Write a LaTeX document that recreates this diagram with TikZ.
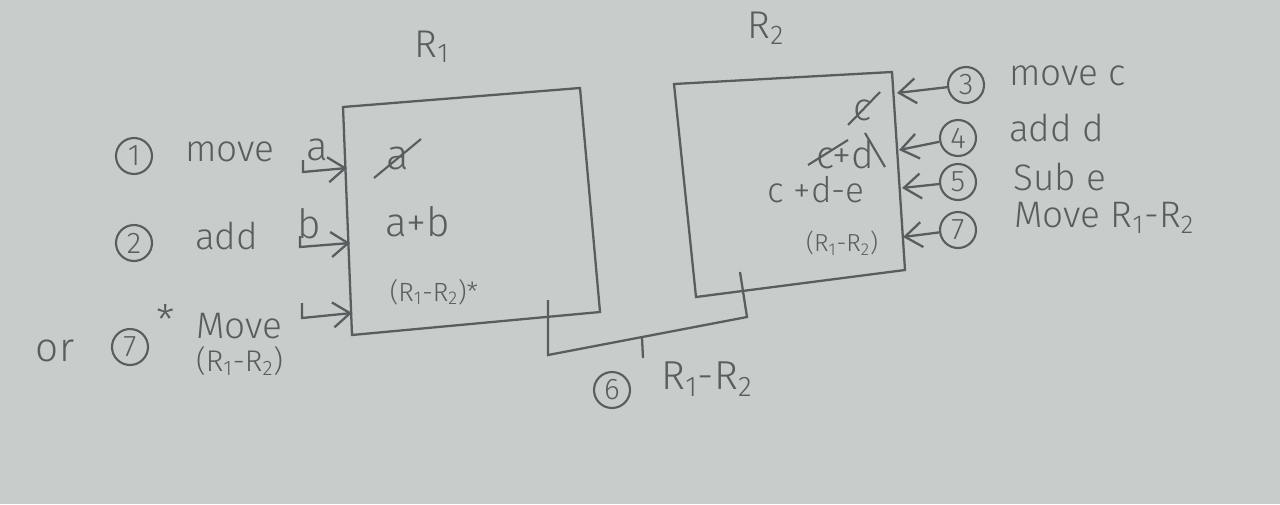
\documentclass[tikz,border=0pt]{standalone}
\usepackage{fontspec}
\setmainfont{Fira Sans}[UprightFont=* Light]
\usetikzlibrary{arrows.meta}
\definecolor{paper}{HTML}{C8CCCB}
\definecolor{ink}{HTML}{585D5E}
\newcommand{\fs}[1]{\fontsize{#1}{#1}\selectfont}
\newcommand{\subs}[1]{\textsubscript{#1}}
\begin{document}
\begin{tikzpicture}[x=0.02cm,y=-0.02cm,line width=1.3pt,draw=ink,
  txt/.style={text=ink,inner sep=0pt,font=\fs{21}},
  rtxt/.style={text=ink,inner sep=0pt,font=\fs{21},anchor=west},
  small/.style={text=ink,inner sep=0pt,font=\fs{14}},
  num/.style={draw=ink,circle,line width=1.2pt,inner sep=0pt,minimum size=0.72cm,text=ink,font=\fs{17}},
  barb/.style={-{Straight Barb[length=3.4mm,width=5mm,line width=1.3pt]}},
  strike/.style={line width=1.2pt}]
\fill[paper] (0,0) rectangle (1280,504);
\useasboundingbox (0,0) rectangle (1280,504);

% ---------- boxes ----------
\coordinate (r1tl) at (343,107); \coordinate (r1tr) at (580,88);
\coordinate (r1br) at (600,312); \coordinate (r1bl) at (352,335);
\draw (r1tl) -- (r1tr) -- (r1br) -- (r1bl) -- cycle;
\coordinate (r2tl) at (674,84); \coordinate (r2tr) at (892,72);
\coordinate (r2br) at (905,270); \coordinate (r2bl) at (696,297);
\draw (r2tl) -- (r2tr) -- (r2br) -- (r2bl) -- cycle;

\node[txt,font=\fs{22}] (lr1) at (432,47) {R\subs{1}};
\node[txt,font=\fs{22}] (lr2) at (766,28) {R\subs{2}};

% ---------- connector 6 ----------
\coordinate (c1) at (548,300); \coordinate (c2) at (548,355);
\coordinate (c3) at (747,317); \coordinate (c4) at (740,272);
\draw (c1) -- (c2) -- (c3) -- (c4);
\coordinate (k1) at (642,338); \coordinate (k2) at (643,358);
\draw (k1) -- (k2);
\node[num] (n6) at (612,390) {6};
\node[txt,font=\fs{23}] (t6) at (707,379) {R\subs{1}-R\subs{2}};

% ---------- left labels ----------
\node[num] (n1) at (134,156) {1};
\node[txt,anchor=west] (t1) at (184,152) {move};
\node[txt,font=\fs{23}] (a1) at (317,150) {a};
\coordinate (h1a) at (303,160); \coordinate (h1b) at (303,172); \coordinate (h1c) at (347,168);
\draw[barb] (h1a) -- (h1b) -- (h1c);

\node[num] (n2) at (134,243) {2};
\node[txt,anchor=west] (t2) at (194,236) {add};
\node[txt,font=\fs{23}] (b2) at (309,224) {b};
\coordinate (h2a) at (300,236); \coordinate (h2b) at (300,247); \coordinate (h2c) at (350,243);
\draw[barb] (h2a) -- (h2b) -- (h2c);

\node[txt,font=\fs{23}] (or) at (55,351) {or};
\node[num] (n7a) at (130,347) {7};
\node[txt,font=\fs{24}] (st) at (166,320) {*};
\node[txt,anchor=west] (t7a) at (195,326) {Move};
\node[txt,anchor=west,font=\fs{17}] (t7b) at (195,361) {(R\subs{1}-R\subs{2})};
\coordinate (h3a) at (302,303); \coordinate (h3b) at (302,318); \coordinate (h3c) at (352,313);
\draw[barb] (h3a) -- (h3b) -- (h3c);

% ---------- inside R1 ----------
\node[txt,font=\fs{24}] (x1) at (398,158) {a};
\coordinate (s1a) at (374,178); \coordinate (s1b) at (421,139);
\draw[strike] (s1a) -- (s1b);
\node[txt,font=\fs{23}] (x2) at (418,222) {a+b};
\node[small,font=\fs{15}] (x3) at (434,292) {(R\subs{1}-R\subs{2})*};

% ---------- inside R2 ----------
\node[txt,font=\fs{22}] (y1) at (863,110) {c};
\coordinate (s2a) at (848,125); \coordinate (s2b) at (880,92);
\draw[strike] (s2a) -- (s2b);
\node[txt,font=\fs{22}] (y2) at (845,154) {c+d};
\coordinate (s3a) at (808,165); \coordinate (s3b) at (848,140);
\draw[strike] (s3a) -- (s3b);
\coordinate (s4a) at (865,133); \coordinate (s4b) at (885,167);
\draw[strike] (s4a) -- (s4b);
\node[txt,font=\fs{20}] (y3) at (816,190) {c +d-e};
\node[small] (y4) at (842,243) {(R\subs{1}-R\subs{2})};

% ---------- right labels ----------
\node[num] (n3) at (966,85) {3};
\node[rtxt] (t3) at (1008,76) {move c};
\coordinate (e3) at (897,93);
\draw[barb] (n3) -- (e3);

\node[num] (n4) at (958,138) {4};
\node[rtxt] (t4) at (1008,128) {add d};
\coordinate (e4) at (899,150);
\draw[barb] (n4) -- (e4);

\node[num] (n5) at (958,182) {5};
\node[rtxt] (t5) at (1012,177) {Sub e};
\coordinate (e5) at (902,188);
\draw[barb] (n5) -- (e5);

\node[num] (n7) at (958,230) {7};
\node[rtxt] (t7) at (1013,218) {Move R\subs{1}-R\subs{2}};
\coordinate (e7) at (903,237);
\draw[barb] (n7) -- (e7);
\end{tikzpicture}
\end{document}
